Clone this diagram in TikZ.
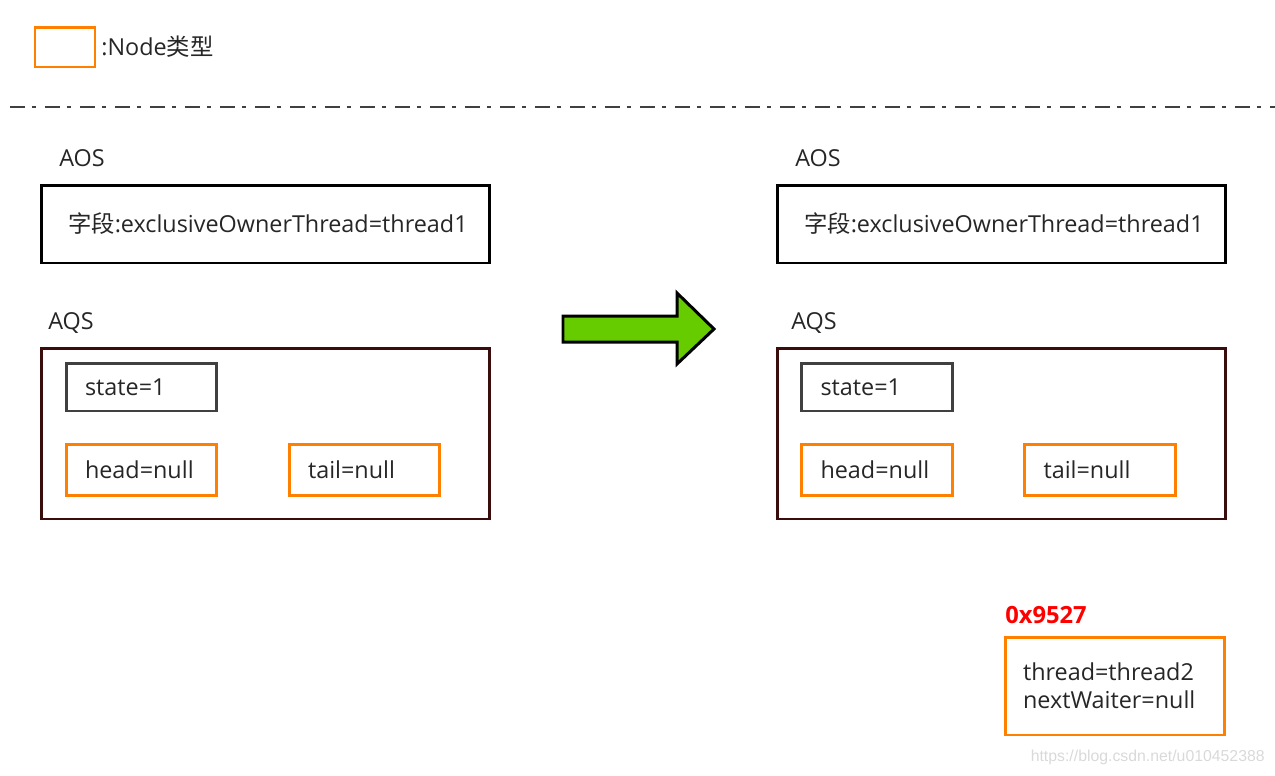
\documentclass[tikz,border=0pt]{standalone}
\usepackage{fontspec}
\setmainfont{Open Sans}
\newfontfamily\cjk{Noto Sans CJK SC}
\usetikzlibrary{positioning}
\definecolor{nodeorange}{HTML}{FF8000}
\definecolor{boxgray}{HTML}{404040}
\definecolor{aqsbrown}{HTML}{3A0C0C}
\definecolor{txtgray}{HTML}{262626}
\definecolor{arrowgreen}{HTML}{66CC00}
\tikzstyle{tag}=[anchor=west, inner sep=0pt, text=txtgray, font=\fontsize{13.3}{15}\selectfont]
\tikzstyle{field}=[draw=nodeorange, line width=1.7pt, minimum height=1.02cm, text width=2.26cm, inner xsep=0.38cm, align=left, text=txtgray, font=\fontsize{13.3}{15}\selectfont]
\tikzstyle{statebox}=[field, draw=boxgray, minimum height=0.96cm]
\tikzstyle{aosbox}=[draw=black, line width=1.7pt, minimum height=1.56cm, text width=7.9cm, inner xsep=0.54cm, align=left, text=txtgray, font=\fontsize{13.3}{15}\selectfont]
\tikzstyle{aqsbox}=[draw=aqsbrown, line width=1.7pt, minimum width=8.98cm, minimum height=3.42cm, inner sep=0pt]

\begin{document}
\begin{tikzpicture}[x=0.02cm, y=-0.02cm]
\useasboundingbox (0,0) rectangle (1275,775);
% legend
\node [draw=nodeorange, line width=1.7pt, minimum width=1.2cm, minimum height=0.8cm, inner sep=0pt] (legend) at (65,47){};
\node [tag] (legendtxt) at (101,47){:Node{\cjk 类型}};
\coordinate (sepl) at (10,107); \coordinate (sepr) at (1275,107);
\draw [boxgray, line width=1.7pt, dash pattern=on 0.3cm off 0.14cm on 0.08cm off 0.18cm] (sepl) -- (sepr);

% before
\node [tag] (aos1) at (59,158){AOS};
\node [aosbox] (owner1) at (265.5,224){{\cjk 字段}:exclusiveOwnerThread=thread1};
\node [tag] (aqs1) at (48,323){AQS};
\node [aqsbox] (aqsbox1) at (265.5,433.5){};
\node [statebox] (state1) at (141.5,387){state=1};
\node [field] (head1) at (141.5,470){head=null};
\node [field] (tail1) at (364.5,470){tail=null};

% big arrow
\coordinate (go) at (563,329);
\draw [fill=arrowgreen, line width=1.7pt, line join=miter] (go) ++(0,-13) -- ++(114,0) -- ++(0,-23) -- ++(37,36)
  -- ++(-37,35) -- ++(0,-22) -- ++(-114,0) -- cycle;

% after
\node [tag] (aos2) at (795,158){AOS};
\node [aosbox] (owner2) at (1001.5,224){{\cjk 字段}:exclusiveOwnerThread=thread1};
\node [tag] (aqs2) at (791,323){AQS};
\node [aqsbox] (aqsbox2) at (1001.5,433.5){};
\node [statebox] (state2) at (877,387){state=1};
\node [field] (head2) at (877,470){head=null};
\node [field] (tail2) at (1100,470){tail=null};

\node [tag, text=red, font=\fontsize{13.5}{15}\selectfont\bfseries] (addr) at (1005,615){0x9527};
\node [field, minimum height=1.96cm, text width=3.68cm, inner xsep=0.36cm, font=\fontsize{13.3}{15.9}\selectfont] (waiter) at (1115,686){thread=thread2\\nextWaiter=null};
\node [anchor=east, inner sep=0pt, text=black!15, font=\fontspec{Liberation Sans}\fontsize{9}{11}\selectfont] (mark) at (1265,757){https://blog.csdn.net/u010452388};
\end{tikzpicture}
\end{document}
